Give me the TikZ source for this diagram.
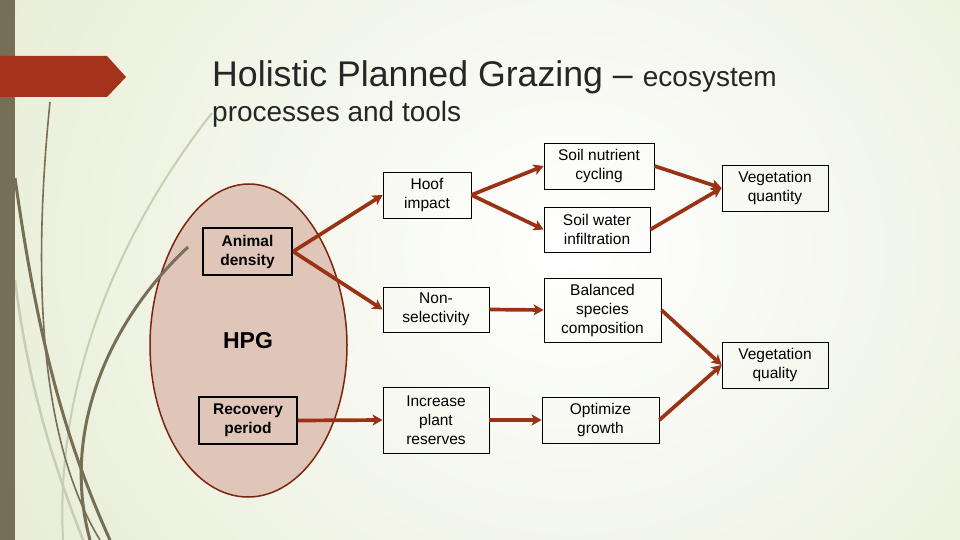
\documentclass[tikz,border=0pt]{standalone}
\usepackage{fontspec}
\setmainfont{Liberation Sans}
\usetikzlibrary{arrows.meta}
\definecolor{bgout}{HTML}{DBE4C0}
\definecolor{barcol}{HTML}{776F55}
\definecolor{grassdark}{HTML}{776F55}
\definecolor{grasslight}{HTML}{C9CDB3}
\definecolor{bannercol}{HTML}{A3331A}
\definecolor{arrowred}{HTML}{9A3316}
\definecolor{eggfill}{HTML}{E0C6B8}
\definecolor{eggline}{HTML}{7B2410}
\definecolor{titlecol}{HTML}{262626}
\tikzset{
  box/.style={draw=black, line width=0.8pt, align=center, inner sep=0pt,
    font=\fontsize{15.5}{19}\selectfont, text=black},
  boldbox/.style={box, line width=2.4pt, font=\fontsize{15.5}{19}\selectfont\bfseries},
  arr/.style={draw=arrowred, line width=3.7pt, -{Stealth[length=10pt,width=11pt,inset=2.5pt]}},
  grassd/.style={draw=grassdark, line width=3pt},
  grassl/.style={draw=grasslight, line width=2.5pt}
}
\begin{document}
\begin{tikzpicture}[x=1pt,y=-1pt]
\useasboundingbox (0,0) rectangle (960,540);
% background
\begin{scope}
\clip (0,0) rectangle (960,540);
\fill[bgout] (0,0) rectangle (960,540);
\shade[inner color=white, outer color=bgout] (570,250) ellipse (1000 and 900);
\end{scope}
% grass (behind ellipse)
\draw[grassl, line width=2pt] (212,113) .. controls (120,230) and (55,380) .. (63,540);
\draw[grassl] (15,280) .. controls (30,400) and (60,480) .. (83,540);
\draw[grassd, line width=1.6pt] (50,102) .. controls (30,300) and (45,450) .. (100,540);
\draw[grassd] (15,178) .. controls (35,320) and (60,430) .. (110,540);
% egg
\filldraw[fill=eggfill, draw=eggline, line width=1.5pt]
  (249,184) .. controls (305,184) and (347,270) .. (347,345)
  .. controls (347,430) and (302,497) .. (248,497)
  .. controls (194,497) and (150,430) .. (150,345)
  .. controls (150,265) and (193,184) .. (249,184) -- cycle;
% grass over egg
\draw[grassd] (188,247) .. controls (110,320) and (60,430) .. (90,540);
% left bar and banner
\fill[barcol] (0,0) rectangle (15,540);
\fill[bannercol] (0,56) -- (107,56) -- (126,77) -- (107,97) -- (0,97) -- cycle;
% title
\node[anchor=base west, inner sep=0pt, text=titlecol, font=\fontsize{35.7}{40}\selectfont] (title) at (212,87)
  {Holistic Planned Grazing \textendash\hspace{10pt}{\fontsize{28}{32}\selectfont ecosystem}};
\node[anchor=base west, inner sep=0pt, text=titlecol, font=\fontsize{28}{32}\selectfont] (subtitle) at (212,122)
  {processes and tools};
% ellipse contents
\node[boldbox, minimum width=89pt, minimum height=47pt] (animal) at (247.5,251.5) {Animal\\density};
\node[inner sep=0pt, font=\fontsize{23}{26}\selectfont\bfseries] (hpg) at (248,341) {HPG};
\node[boldbox, minimum width=98pt, minimum height=47pt] (recovery) at (248,420.5) {Recovery\\period};
% boxes
\node[box, minimum width=88pt, minimum height=46pt] (hoof) at (427,195) {Hoof\\impact};
\node[box, minimum width=106pt, minimum height=45pt] (nonsel) at (436,309.5) {Non-\\selectivity};
\node[box, minimum width=106pt, minimum height=66pt] (incr) at (436,420) {Increase\\plant\\reserves};
\node[box, minimum width=110pt, minimum height=46pt] (soilnut) at (599,166) {Soil nutrient\\cycling};
\node[box, minimum width=106pt, minimum height=45pt] (soilwat) at (597,229.5) {Soil water\\infiltration};
\node[box, minimum width=117pt, minimum height=64pt] (balanced) at (602.5,310) {Balanced\\species\\composition};
\node[box, minimum width=117pt, minimum height=46pt] (optimize) at (600.5,420) {Optimize\\growth};
\node[box, minimum width=106pt, minimum height=46pt] (vquant) at (775,188) {Vegetation\\quantity};
\node[box, minimum width=106pt, minimum height=46pt] (vqual) at (775,365) {Vegetation\\quality};
% arrows
\draw[arr] (animal.east) -- (hoof.west);
\draw[arr] (animal.east) -- (nonsel.west);
\draw[arr] (recovery.east) -- (incr.west);
\draw[arr] (hoof.east) -- (soilnut.west);
\draw[arr] (hoof.east) -- (soilwat.west);
\draw[arr] (soilnut.east) -- (vquant.west);
\draw[arr] (soilwat.east) -- (vquant.west);
\draw[arr] (nonsel.east) -- (balanced.west);
\draw[arr] (balanced.east) -- (vqual.west);
\draw[arr] (optimize.east) -- (vqual.west);
\draw[arr] (incr.east) -- (optimize.west);
\end{tikzpicture}
\end{document}
